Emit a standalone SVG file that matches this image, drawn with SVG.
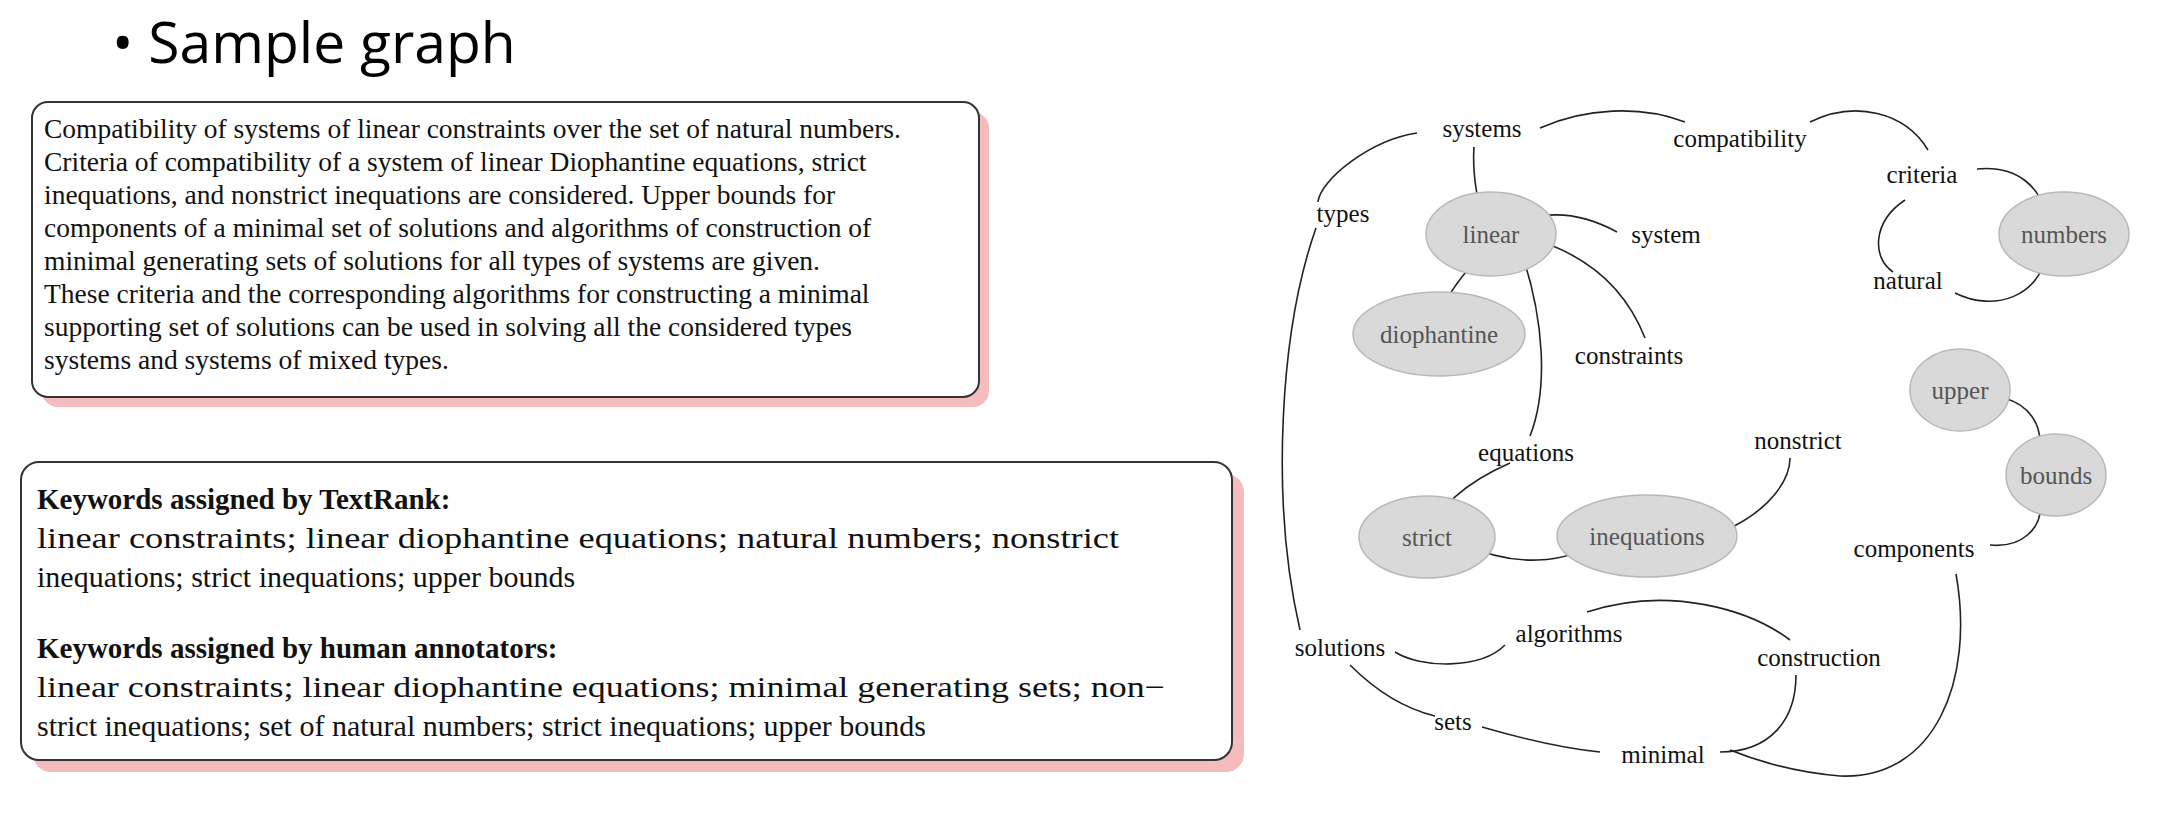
<svg xmlns="http://www.w3.org/2000/svg" width="2172" height="826" viewBox="0 0 2172 826">
<style>
.t{font-family:"Liberation Serif",serif;font-size:27.5px;fill:#111}
.k{font-family:"Liberation Serif",serif;font-size:30px;fill:#111}
.kb{font-family:"Liberation Serif",serif;font-size:29px;font-weight:bold;fill:#111}
.n{font-family:"Liberation Serif",serif;font-size:25px;fill:#111;text-anchor:middle;dominant-baseline:central}
.g{fill:#555}
ellipse{fill:#d9d9d9;stroke:#b8b8b8;stroke-width:1.5}
.e path{fill:none;stroke:#222;stroke-width:1.6}
</style>
<rect width="2172" height="826" fill="#fff"/>
<text x="112" y="63" font-family="'Open Sans',sans-serif" font-size="57" fill="#000">• Sample graph</text>
<g id="abstract">
<rect x="42" y="112" width="947" height="295" rx="16" fill="#f4bcbc"/>
<rect x="32" y="102" width="947" height="295" rx="16" fill="#fff" stroke="#333" stroke-width="2"/>
<text class="t" x="44" y="138">Compatibility of systems of linear constraints over the set of natural numbers.</text>
<text class="t" x="44" y="171">Criteria of compatibility of a system of linear Diophantine equations, strict</text>
<text class="t" x="44" y="204">inequations, and nonstrict inequations are considered. Upper bounds for</text>
<text class="t" x="44" y="237">components of a minimal set of solutions and algorithms of construction of</text>
<text class="t" x="44" y="270">minimal generating sets of solutions for all types of systems are given.</text>
<text class="t" x="44" y="303">These criteria and the corresponding algorithms for constructing a minimal</text>
<text class="t" x="44" y="336">supporting set of solutions can be used in solving all the considered  types</text>
<text class="t" x="44" y="369">systems and systems of mixed types.</text>
</g>
<g id="keywords">
<rect x="33" y="474" width="1211" height="298" rx="18" fill="#f4bcbc"/>
<rect x="21" y="462" width="1211" height="298" rx="18" fill="#fff" stroke="#333" stroke-width="2"/>
<text class="kb" x="37" y="509">Keywords assigned by TextRank:</text>
<text class="k" x="37" y="548" textLength="1082" lengthAdjust="spacingAndGlyphs">linear constraints; linear diophantine equations; natural numbers; nonstrict</text>
<text class="k" x="37" y="587">inequations; strict inequations; upper bounds</text>
<text class="kb" x="37" y="658">Keywords assigned by human annotators:</text>
<text class="k" x="37" y="697" textLength="1128" lengthAdjust="spacingAndGlyphs">linear constraints; linear diophantine equations; minimal generating sets;  non−</text>
<text class="k" x="37" y="736">strict inequations; set of natural numbers; strict inequations; upper bounds</text>
</g>
<g id="connectors" class="e">
<path d="M1417,133 C1370,140 1320,180 1318,202"/>
<path d="M1316,228 C1280,330 1270,500 1300,630"/>
<path d="M1540,128 C1585,108 1640,105 1685,122"/>
<path d="M1810,122 C1855,100 1905,112 1928,150"/>
<path d="M1977,169 C2020,165 2040,190 2045,212"/>
<path d="M1905,200 C1872,222 1872,258 1893,272"/>
<path d="M1955,293 C1995,313 2040,295 2045,256"/>
<path d="M1474,147 C1472,175 1478,200 1482,218"/>
<path d="M1510,227 C1545,208 1580,212 1617,232"/>
<path d="M1536,240 C1600,260 1630,300 1645,338"/>
<path d="M1487,250 C1460,275 1445,300 1438,318"/>
<path d="M1520,248 C1545,320 1548,390 1530,436"/>
<path d="M1510,463 C1460,485 1440,510 1435,523"/>
<path d="M1465,544 C1510,567 1570,565 1595,540"/>
<path d="M1726,530 C1770,510 1790,480 1790,458"/>
<path d="M2004,398 C2030,405 2040,425 2040,442"/>
<path d="M2040,497 C2045,530 2020,548 1990,545"/>
<path d="M1956,574 C1975,680 1935,780 1840,776 C1790,772 1755,760 1730,750"/>
<path d="M1796,675 C1796,720 1770,752 1720,752"/>
<path d="M1587,612 C1670,585 1750,610 1790,640"/>
<path d="M1395,652 C1420,668 1480,670 1505,645"/>
<path d="M1350,665 C1380,695 1410,710 1435,716"/>
<path d="M1482,727 C1520,738 1560,748 1600,752"/>
</g>
<g id="n-systems"><text class="n" x="1482" y="128">systems</text></g>
<g id="n-compatibility"><text class="n" x="1740" y="138">compatibility</text></g>
<g id="n-criteria"><text class="n" x="1922" y="174">criteria</text></g>
<g id="n-numbers"><ellipse cx="2064" cy="234" rx="65" ry="42"/><text class="n g" x="2064" y="234">numbers</text></g>
<g id="n-natural"><text class="n" x="1908" y="280">natural</text></g>
<g id="n-types"><text class="n" x="1343" y="213">types</text></g>
<g id="n-linear"><ellipse cx="1491" cy="234" rx="65" ry="42"/><text class="n g" x="1491" y="234">linear</text></g>
<g id="n-system"><text class="n" x="1666" y="234">system</text></g>
<g id="n-diophantine"><ellipse cx="1439" cy="334" rx="86" ry="42"/><text class="n g" x="1439" y="334">diophantine</text></g>
<g id="n-constraints"><text class="n" x="1629" y="355">constraints</text></g>
<g id="n-upper"><ellipse cx="1960" cy="390" rx="50" ry="41"/><text class="n g" x="1960" y="390">upper</text></g>
<g id="n-bounds"><ellipse cx="2056" cy="475" rx="50" ry="41"/><text class="n g" x="2056" y="475">bounds</text></g>
<g id="n-nonstrict"><text class="n" x="1798" y="440">nonstrict</text></g>
<g id="n-equations"><text class="n" x="1526" y="452">equations</text></g>
<g id="n-strict"><ellipse cx="1427" cy="537" rx="68" ry="41"/><text class="n g" x="1427" y="537">strict</text></g>
<g id="n-inequations"><ellipse cx="1647" cy="536" rx="90" ry="41"/><text class="n g" x="1647" y="536">inequations</text></g>
<g id="n-components"><text class="n" x="1914" y="548">components</text></g>
<g id="n-solutions"><text class="n" x="1340" y="647">solutions</text></g>
<g id="n-algorithms"><text class="n" x="1569" y="633">algorithms</text></g>
<g id="n-construction"><text class="n" x="1819" y="657">construction</text></g>
<g id="n-sets"><text class="n" x="1453" y="721">sets</text></g>
<g id="n-minimal"><text class="n" x="1663" y="754">minimal</text></g>
</svg>
